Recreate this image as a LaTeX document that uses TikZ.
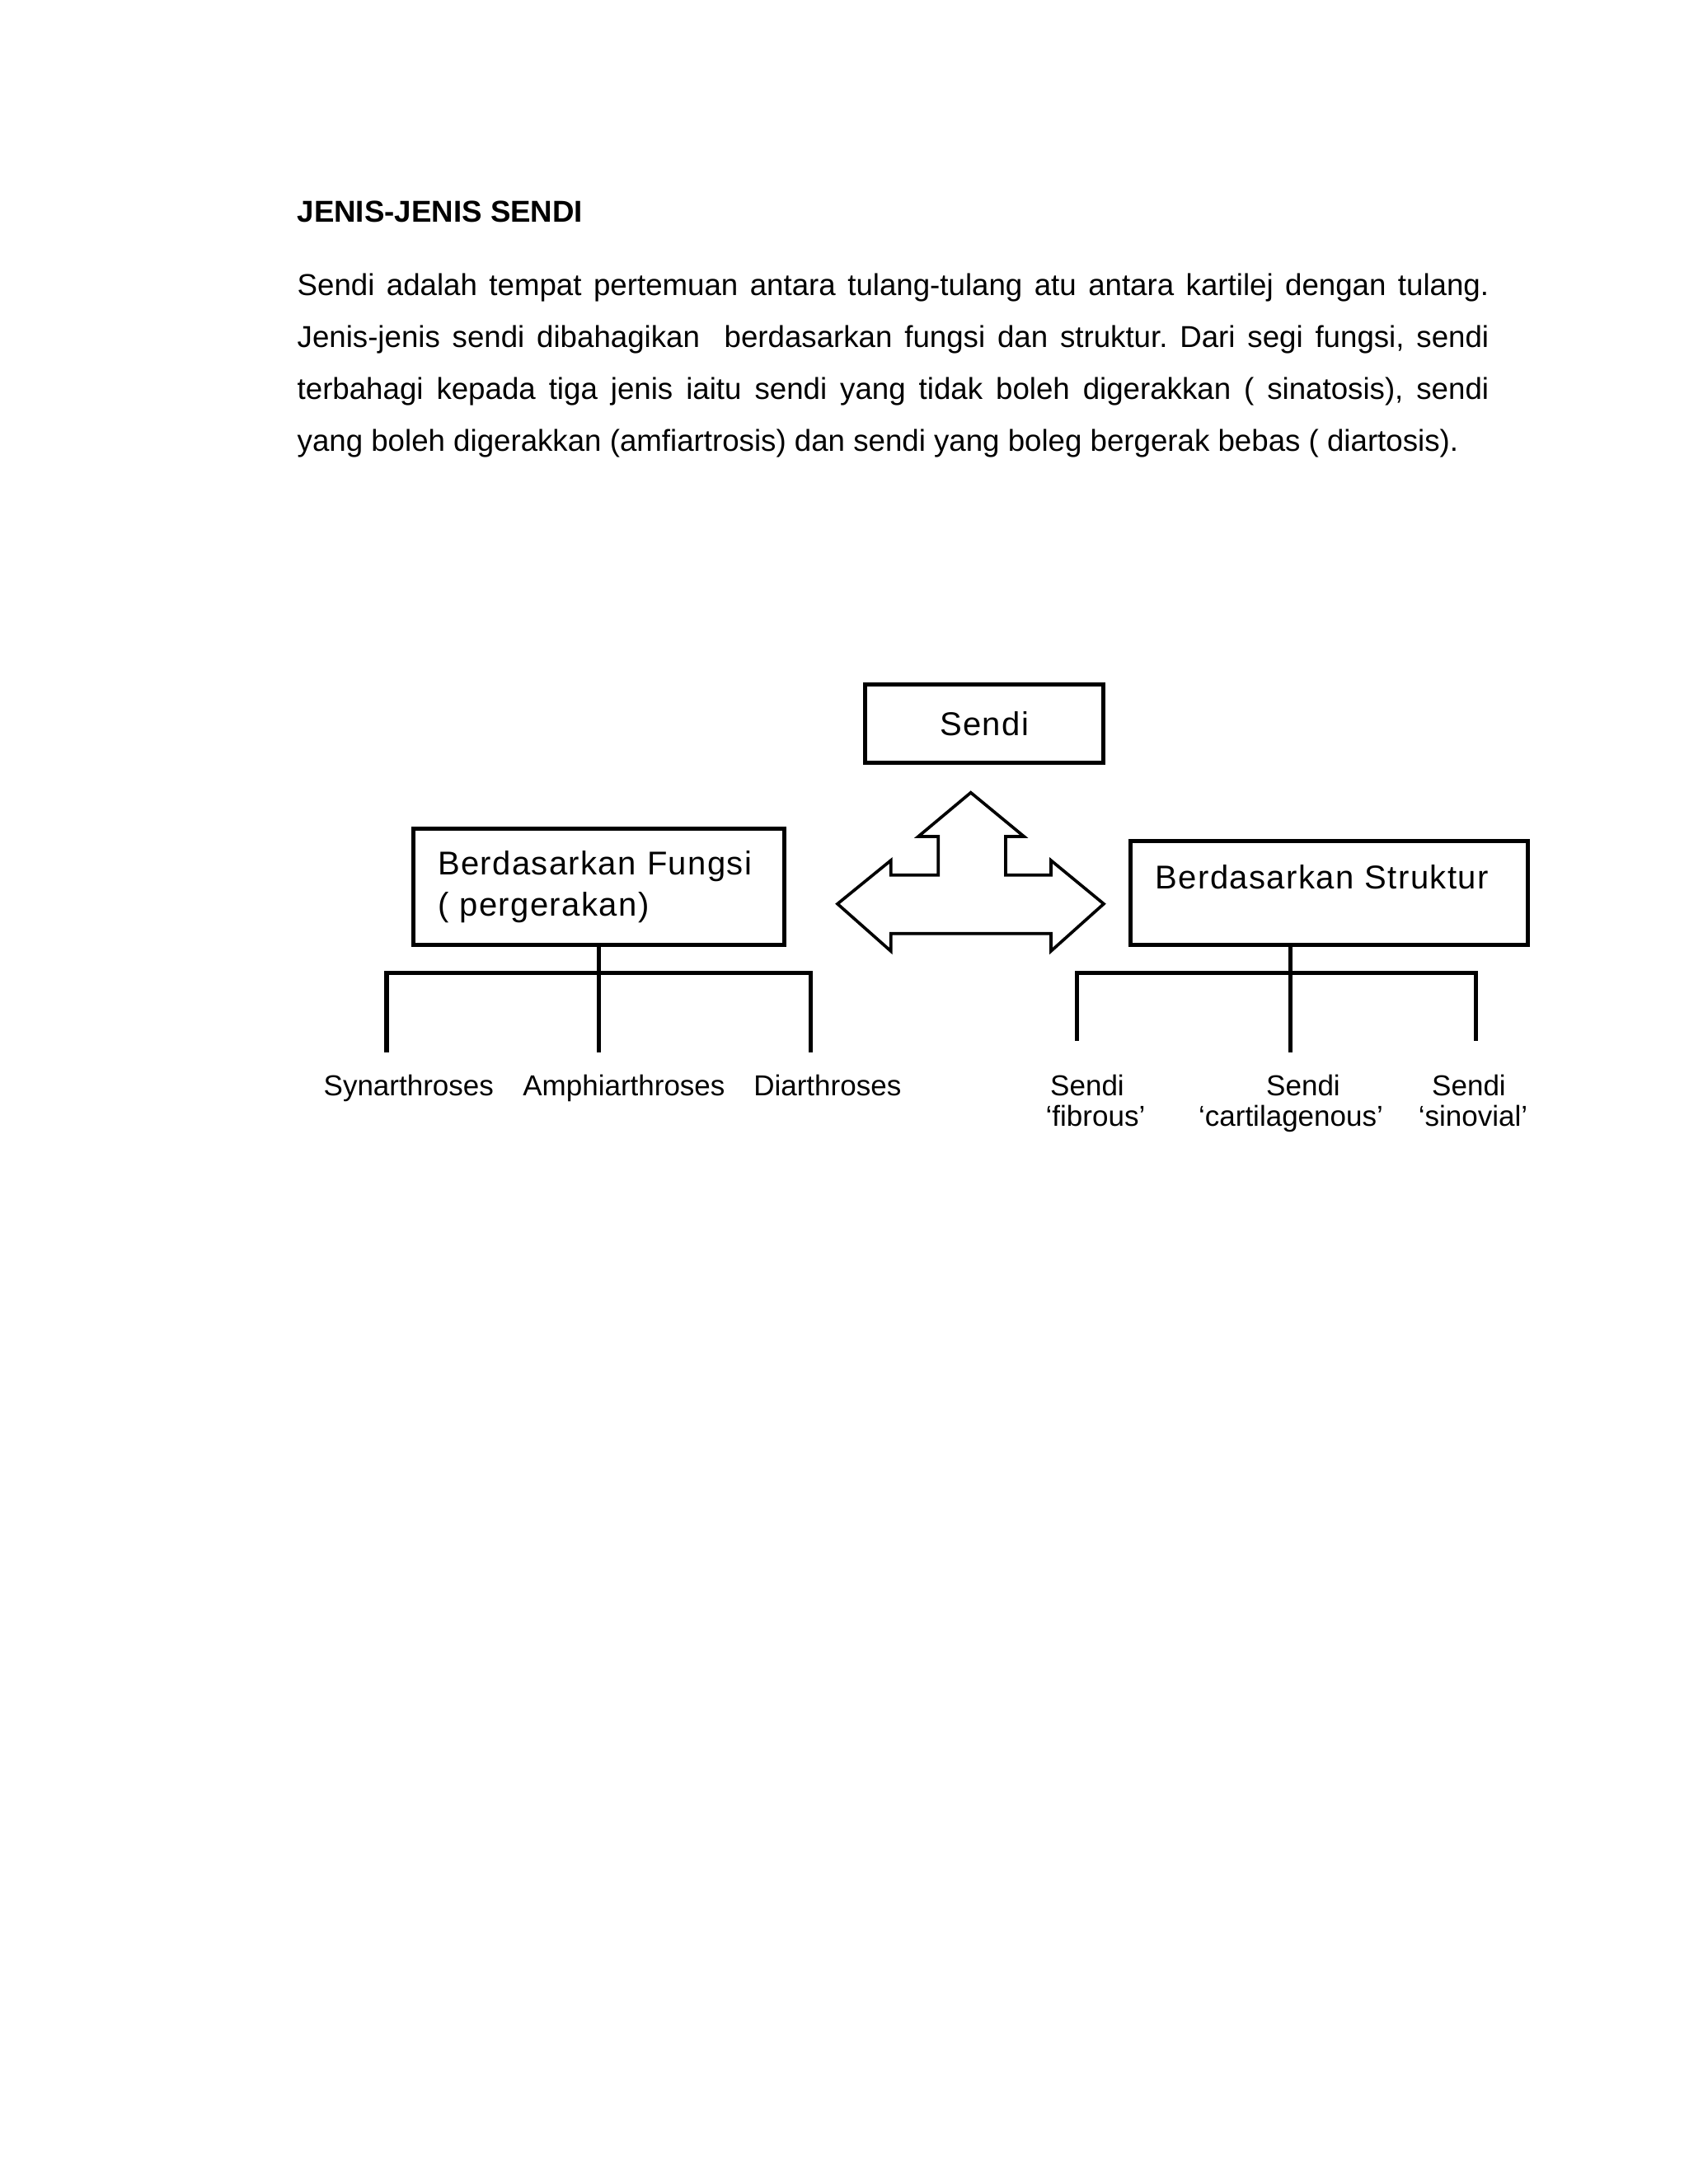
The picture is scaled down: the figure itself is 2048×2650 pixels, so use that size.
\documentclass[tikz,border=0pt]{standalone}
\usepackage{fontspec}
\setmainfont{Liberation Sans}
\newfontfamily\diagfont{Liberation Sans}[LetterSpace=3.5]
\usepackage{tikz}

\begin{document}
\begin{tikzpicture}[x=0.29883bp, y=-0.29883bp,
    box/.style={draw, rectangle, line width=1.5bp, inner sep=0pt, font=\diagfont\fontsize{12}{14.85}\selectfont},
    tree/.style={line width=1.5bp},
    arrowline/.style={line width=1.1bp, line join=miter},
    label/.style={anchor=base, inner sep=0pt, font=\fontsize{10.5}{11.2}\selectfont}]

        \path[fill=white] (0,0) rectangle (2048,2650);

        \node[anchor=base west, inner sep=0pt, font=\bfseries\fontsize{11}{13}\selectfont] (judul) at (360,269) {JENIS-JENIS SENDI};
        \node[anchor=base west, inner sep=0pt, text width=432bp, align=justify, font=\fontsize{11}{18.9}\selectfont] (teks) at (360,358.3)
            {\frenchspacing\hyphenpenalty=10000\exhyphenpenalty=10000\tolerance=9999
            Sendi adalah tempat pertemuan antara tulang-tulang atu antara kartilej dengan tulang.\linebreak
            Jenis-jenis sendi dibahagikan\ \ berdasarkan fungsi dan struktur. Dari segi fungsi, sendi\linebreak
            terbahagi kepada tiga jenis iaitu sendi yang tidak boleh digerakkan ( sinatosis), sendi\linebreak
            yang boleh digerakkan (amfiartrosis) dan sendi yang boleg bergerak bebas ( diartosis).};

        \node[box, minimum width=86.36bp, minimum height=28.39bp] (sendi) at (1194,878) {Sendi};
        \node[box, minimum width=134.47bp, minimum height=42.13bp, text width=116.84bp, inner xsep=8.82bp, align=left] (fungsi) at (726.5,1076) {Berdasarkan Fungsi\\( pergerakan)};
        \node[box, minimum width=143.74bp, text width=126.05bp, inner xsep=8.85bp, inner ysep=7.77bp, text height=9.3bp, text depth=12.55bp, align=left] (struktur) at (1612.5,1083.5) {Berdasarkan Struktur};

        % anak panah tiga arah
        \draw[arrowline] (1177.7,961.7) -- (1242.3,1015) -- (1220,1015) -- (1220,1061.7) -- (1275,1061.7) -- (1275,1044)
            -- (1339,1096.7) -- (1275,1154) -- (1275,1132.7) -- (1080.7,1132.7) -- (1080.7,1154) -- (1016,1096.7)
            -- (1080.7,1044) -- (1080.7,1061.7) -- (1138.3,1061.7) -- (1138.3,1015) -- (1114,1015) -- cycle;

        \coordinate (fbar) at (726.5,1180);
        \coordinate (f1) at (469,1276.7);
        \coordinate (f2) at (726.5,1276.7);
        \coordinate (f3) at (983.3,1276.7);
        \draw[tree] (fungsi.south) -- (f2);
        \draw[tree] (f1) |- (fbar) -| (f3);

        \coordinate (sbar) at (1565,1180);
        \coordinate (s1) at (1306.7,1262.7);
        \coordinate (s2) at (1565,1276.7);
        \coordinate (s3) at (1790,1262.7);
        \draw[tree] (struktur.south -| s2) -- (s2);
        \draw[tree] (s1) |- (sbar) -| (s3);

        \node[label] (synar) at (495.8,1329.3) {Synarthroses};
        \node[label] (amphi) at (756.9,1329.3) {Amphiarthroses};
        \node[label] (diar) at (1003.8,1329.3) {Diarthroses};
        \node[label] (fibA) at (1319,1329.3) {Sendi};
        \node[label] (fibB) at (1329,1366.7) {‘fibrous’};
        \node[label] (carA) at (1581,1329.3) {Sendi};
        \node[label] (carB) at (1566,1366.7) {‘cartilagenous’};
        \node[label] (sinA) at (1782,1329.3) {Sendi};
        \node[label] (sinB) at (1787,1366.7) {‘sinovial’};
    \end{tikzpicture}
\end{document}
